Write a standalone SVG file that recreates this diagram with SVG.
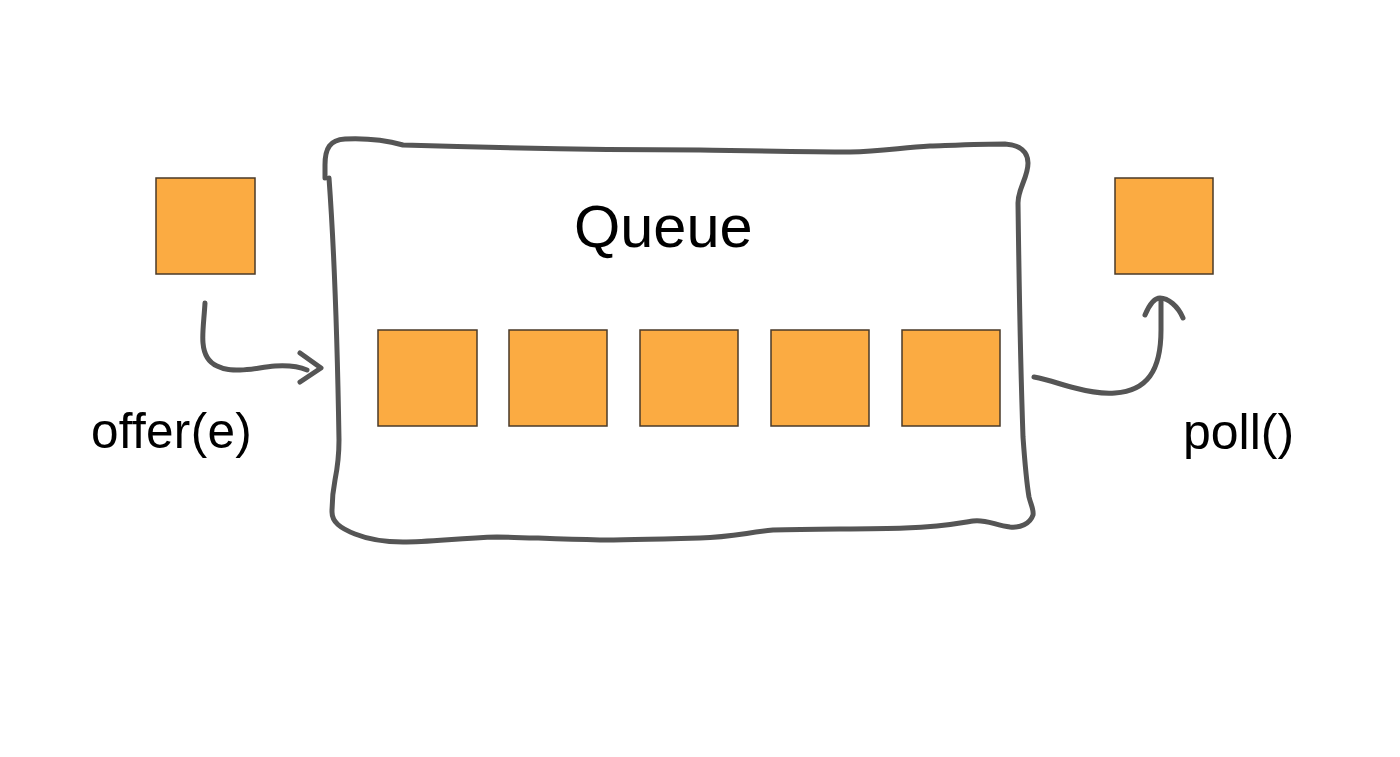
<svg xmlns="http://www.w3.org/2000/svg" width="1400" height="757" viewBox="0 0 1400 757">
<style>
.item{fill:#FBAB42;stroke:#4a3a28;stroke-width:1.5}
.ink{fill:none;stroke:#555555;stroke-width:5;stroke-linecap:round;stroke-linejoin:round}
.lbl{font-family:"Liberation Sans",Arial,sans-serif;fill:#000;font-variant-ligatures:none;font-feature-settings:"liga" 0}
</style>
<rect width="1400" height="757" fill="#ffffff"/>
<g id="queue">
<path class="ink" d="M325,178 L325,165 C325,148 330,140 345,139 C365,138 385,140 403,145 C500,148 600,150 700,150 C760,151 810,152 850,152 C880,151 900,148 930,146 C960,145 985,144 1005,144 C1020,145 1028,152 1028,163 C1028,178 1018,188 1018,203 C1019,280 1021,380 1023,437 C1025,465 1027,485 1029,497 C1031,505 1034,510 1033,515 C1030,524 1020,528 1010,527 C995,525 985,519 973,521 C955,524 940,527 905,528 C870,529 820,529 773,530 C745,533 730,537 700,538 C660,539 620,540 600,540 C550,539 520,537 497,537 C460,538 430,542 403,542 C385,542 370,540 355,534 C340,528 332,522 332,512 C332,500 333,490 335,480 C338,465 339,455 339,440 C338,380 335,260 329,178"/>
<text class="lbl" x="574" y="247" font-size="59.5">Queue</text>
</g>
<g id="item-in">
<rect class="item" x="156" y="178" width="99" height="96"/>
</g>
<g id="item-out">
<rect class="item" x="1115" y="178" width="98" height="96"/>
</g>
<g id="slots">
<rect id="slot1" class="item" x="378" y="330" width="99" height="96"/>
<rect id="slot2" class="item" x="509" y="330" width="98" height="96"/>
<rect id="slot3" class="item" x="640" y="330" width="98" height="96"/>
<rect id="slot4" class="item" x="771" y="330" width="98" height="96"/>
<rect id="slot5" class="item" x="902" y="330" width="98" height="96"/>
</g>
<g id="connectors">
<path class="ink" d="M205,303 C204,320 202,333 203,343 C204,355 208,362 217,366 C225,370 232,370 240,370 C252,370 262,367 275,366 C290,365 300,367 307,370"/>
<path class="ink" d="M300,353 L321,368 L300,382"/>
<path class="ink" d="M1034,377 C1050,380 1062,385 1075,388 C1090,392 1103,394 1115,393 C1130,392 1142,387 1150,376 C1158,365 1161,350 1161,330 L1161,300"/>
<path class="ink" d="M1145,315 C1150,303 1155,298 1160,298 C1168,298 1178,306 1183,318"/>
</g>
<g id="labels">
<text class="lbl" x="91" y="448" font-size="49.5" letter-spacing="0.3">offer(e)</text>
<text class="lbl" x="1183" y="449" font-size="50">poll()</text>
</g>
</svg>
